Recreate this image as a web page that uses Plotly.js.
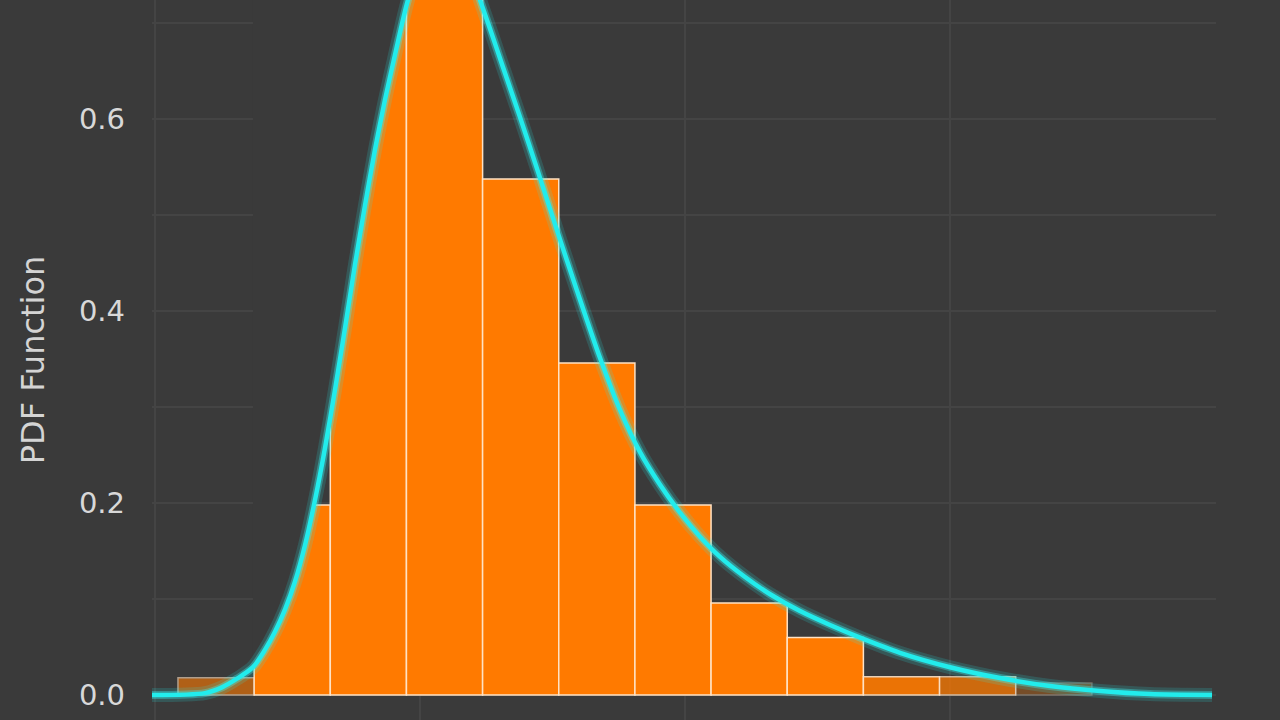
<!DOCTYPE html>
<html>
<head>
<meta charset="utf-8">
<script src="https://cdn.plot.ly/plotly-3.0.1.min.js"></script>
<style>
  html, body { margin: 0; padding: 0; background: #3a3a3a; }
  #chart { width: 1280px; height: 720px; }
</style>
</head>
<body>
<div id="chart"></div>
<script>
// Histogram bins (bin index units) and densities
const binEdges = [0, 1, 2, 3, 4, 5, 6, 7, 8, 9, 10, 11, 12];
const binHeights = [0.018, 0.198, 0.74, 0.79, 0.5375, 0.346, 0.198, 0.096, 0.060, 0.019, 0.019, 0.0125];

// Fitted PDF curve
const curveX = [-0.341, 0.355, 0.578, 0.775, 0.985, 1.142, 1.274, 1.405, 1.536, 1.668,
  1.799, 1.930, 2.062, 2.193, 2.324, 2.456, 2.587, 2.718, 2.850, 3.020,
  3.244, 3.506, 3.769, 3.966, 4.097, 4.268, 4.491, 4.728, 4.977, 5.240,
  5.542, 5.804, 6.067, 6.330, 6.592, 6.855, 7.118, 7.446, 7.775, 8.168,
  8.562, 8.982, 9.481, 10.138, 10.794, 11.451, 12.108, 12.764, 13.578];
const curveY = [0.000, 0.002, 0.008, 0.017, 0.029, 0.047, 0.066, 0.089, 0.118, 0.156,
  0.203, 0.257, 0.318, 0.382, 0.448, 0.510, 0.568, 0.620, 0.667, 0.724,
  0.775, 0.805, 0.772, 0.724, 0.694, 0.654, 0.602, 0.545, 0.484, 0.421,
  0.351, 0.297, 0.253, 0.219, 0.190, 0.165, 0.144, 0.123, 0.105, 0.0875,
  0.073, 0.059, 0.044, 0.029, 0.0177, 0.0094, 0.0042, 0.001, 0.000];

const yTickVals = [0, 0.2, 0.4, 0.6];
const yTitle = 'PDF Function';

const BG = '#3a3a3a';
const GRID = '#444444';
const ORANGE = '#ff7a00';
const CYAN = '#22ecec';

const centers = binHeights.map((_, i) => (binEdges[i] + binEdges[i + 1]) / 2);
const widths = binHeights.map((_, i) => binEdges[i + 1] - binEdges[i]);
const barOpacity = [0.6, 1, 1, 1, 1, 1, 1, 1, 1, 0.9, 0.75, 0.3];

const yRange = [-0.026, 0.724];
const xRange = [-0.341, 13.63];

// mask: hides the part of the rising bars that lies above the curve (left flank)
const maskX = [], maskY = [];
const leftBinStart = binEdges[1];
const peakBinStart = binEdges[3];
for (let i = 0; i < curveX.length; i++) {
  if (curveX[i] >= leftBinStart - 0.02 && curveX[i] <= peakBinStart + 0.03) {
    maskX.push(curveX[i]); maskY.push(curveY[i]);
  }
}
const maskTop = yRange[1] + 0.1;
maskX.push(maskX[maskX.length - 1], maskX[0]);
maskY.push(maskTop, maskTop);

const traces = [
  {
    type: 'bar',
    x: centers,
    y: binHeights,
    width: widths,
    marker: {
      color: ORANGE,
      opacity: barOpacity,
      line: { color: '#ffe2c4', width: 1.5 }
    },
    hoverinfo: 'y',
    showlegend: false
  },
  {
    type: 'scatter',
    mode: 'lines',
    x: maskX,
    y: maskY,
    fill: 'toself',
    fillcolor: BG,
    line: { width: 0, color: BG },
    hoverinfo: 'skip',
    showlegend: false
  },
  {
    type: 'scatter',
    mode: 'lines',
    x: curveX,
    y: curveY,
    line: { color: 'rgba(40,240,240,0.16)', width: 14, shape: 'spline', smoothing: 0.8 },
    hoverinfo: 'skip',
    showlegend: false
  },
  {
    type: 'scatter',
    mode: 'lines',
    x: curveX,
    y: curveY,
    line: { color: 'rgba(60,245,245,0.35)', width: 8, shape: 'spline', smoothing: 0.8 },
    hoverinfo: 'skip',
    showlegend: false
  },
  {
    type: 'scatter',
    mode: 'lines',
    x: curveX,
    y: curveY,
    line: { color: CYAN, width: 4.5, shape: 'spline', smoothing: 0.8 },
    name: 'PDF',
    showlegend: false
  }
];

const layout = {
  width: 1280,
  height: 720,
  paper_bgcolor: BG,
  plot_bgcolor: BG,
  margin: { l: 152, r: 64, t: 0, b: 0, pad: 0 },
  bargap: 0,
  showlegend: false,
  xaxis: {
    range: xRange,
    showticklabels: false,
    ticks: '',
    showgrid: true,
    gridcolor: GRID,
    gridwidth: 1.5,
    tick0: -0.302,
    dtick: 3.48,
    zeroline: false,
    showline: false
  },
  yaxis: {
    range: yRange,
    tickvals: yTickVals,
    tickformat: '.1f',
    ticks: '',
    ticklabelstandoff: 26,
    tickfont: { family: 'DejaVu Sans, sans-serif', size: 29, color: '#d8d8d8' },
    showgrid: true,
    gridcolor: GRID,
    gridwidth: 1.5,
    minor: { dtick: 0.1, showgrid: true, gridcolor: GRID, gridwidth: 1.5 },
    zeroline: false,
    showline: false,
    title: {
      text: yTitle,
      standoff: 24,
      font: { family: 'DejaVu Sans, sans-serif', size: 32, color: '#d4d4d4' }
    }
  }
};

Plotly.newPlot('chart', traces, layout, { displayModeBar: false, staticPlot: true });
</script>
</body>
</html>
